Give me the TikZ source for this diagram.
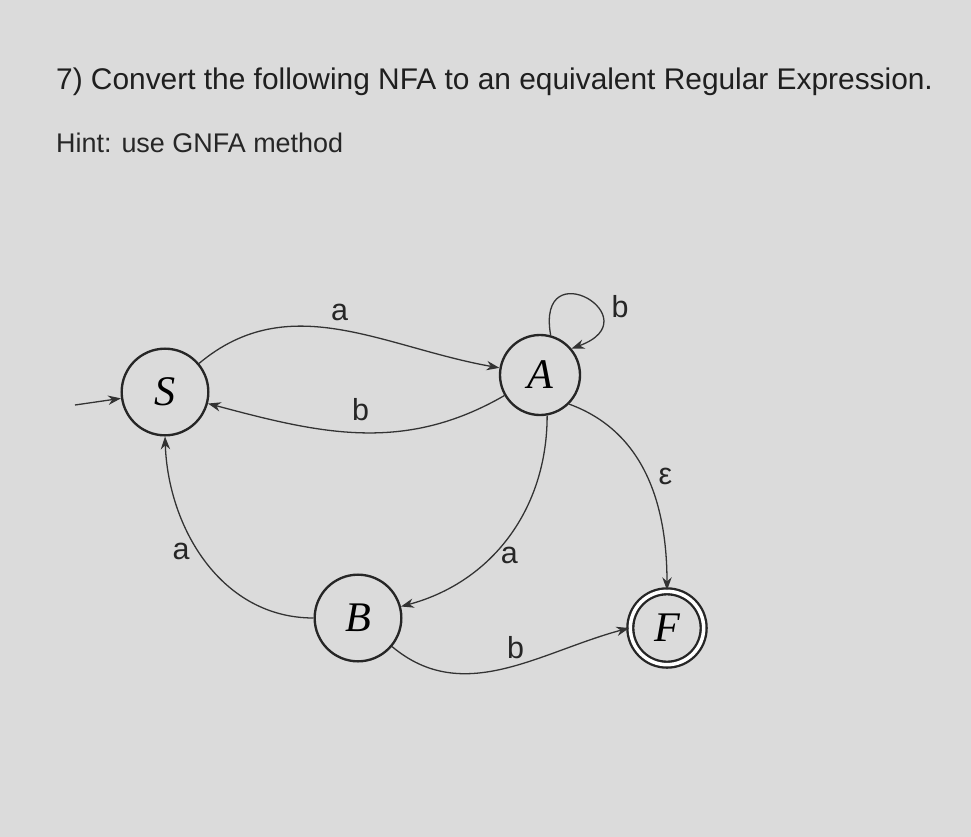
\documentclass[tikz,border=0pt]{standalone}
\usepackage{fontspec}
\setmainfont{Liberation Sans}
\newfontfamily\stfont{Liberation Serif}
\usetikzlibrary{arrows.meta}
\begin{document}
\begin{tikzpicture}[x=0.03cm,y=-0.03cm,
  st/.style={circle,draw=black!85,line width=2pt,minimum size=2.6cm,inner sep=0pt,font=\stfont\itshape\fontsize{36}{38}\selectfont},
  acc/.style={st,double,double distance=3pt,minimum size=2.2cm},
  ed/.style={draw=black!80,line width=1.1pt,-{Stealth[length=11pt,width=8pt]}},
  lab/.style={font=\fontsize{26}{28}\selectfont,text=black!85}]
\fill[black!14] (0,0) rectangle (971,837);
\useasboundingbox (0,0) rectangle (971,837);
\node[anchor=west,font=\fontsize{25.5}{28}\selectfont,text=black!88] (t1) at (52,82) {7) Convert the following NFA to an equivalent Regular Expression.};
\node[anchor=west,font=\fontsize{23}{26}\selectfont,text=black!85] (t2) at (52,143) {Hint: use GNFA method};
\node[st] (S) at (165,392) {S};
\node[st,minimum size=2.4cm] (A) at (540,375) {A};
\node[st] (B) at (358,618) {B};
\node[acc] (F) at (667,628) {F};
\coordinate (in) at (75,405);
\draw[ed] (in) -- (S);
\draw[ed] (S) to[out=40,in=170] node[lab,above=4pt] {a} (A);
\draw[ed] (A) to[out=210,in=-15] node[lab,above=6pt] {b} (S);
\draw[ed] (A.75) to[out=100,in=20,looseness=9] node[lab,right=10pt,pos=0.6] {b} (A.40);
\draw[ed] (A.-45) to[out=-20,in=90] node[lab,right=6pt] {ε} (F.north);
\draw[ed] (A.-80) to[out=-90,in=15] node[lab,right=4pt,pos=0.6] {a} (B.15);
\draw[ed] (B.west) to[out=180,in=-88] node[lab,left=4pt,pos=0.55] {a} (S.south);
\draw[ed] (B.-40) to[out=-40,in=195] node[lab,above=2pt,pos=0.55] {b} (F.west);
\end{tikzpicture}
\end{document}
